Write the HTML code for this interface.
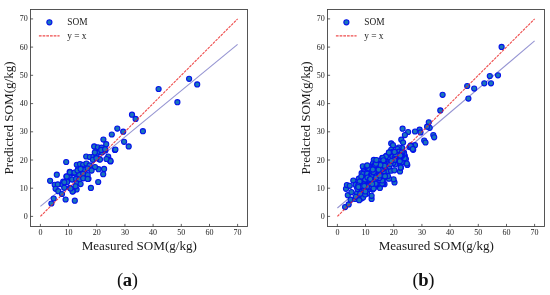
<!DOCTYPE html>
<html><head><meta charset="utf-8"><title>SOM scatter</title>
<style>html,body{margin:0;padding:0;background:#fff}svg{display:block}</style></head>
<body>
<svg width="550" height="295" viewBox="0 0 550 295" font-family="'Liberation Serif', serif">
<rect width="550" height="295" fill="#fff"/>
<line x1="40.4" y1="206.3" x2="237.6" y2="44.3" stroke="#9594d2" stroke-width="1.1"/>
<g fill="#1976ba" stroke="#0512ea" stroke-width="1.1"><circle cx="51.4" cy="203.5" r="2.55"/><circle cx="53.7" cy="198.5" r="2.55"/><circle cx="65.6" cy="199.5" r="2.55"/><circle cx="74.8" cy="200.7" r="2.55"/><circle cx="50.1" cy="180.8" r="2.55"/><circle cx="56.8" cy="174.7" r="2.55"/><circle cx="54.7" cy="184.8" r="2.55"/><circle cx="57.8" cy="184.4" r="2.55"/><circle cx="55.6" cy="188.8" r="2.55"/><circle cx="58.3" cy="191.2" r="2.55"/><circle cx="62.0" cy="194.0" r="2.55"/><circle cx="90.9" cy="187.9" r="2.55"/><circle cx="98.2" cy="182.0" r="2.55"/><circle cx="103.2" cy="174.2" r="2.55"/><circle cx="104.1" cy="168.9" r="2.55"/><circle cx="110.5" cy="161.5" r="2.55"/><circle cx="66.2" cy="162.0" r="2.55"/><circle cx="76.6" cy="189.4" r="2.55"/><circle cx="73.0" cy="191.2" r="2.55"/><circle cx="88.5" cy="178.8" r="2.55"/><circle cx="98.6" cy="169.2" r="2.55"/><circle cx="95.0" cy="167.0" r="2.55"/><circle cx="197.2" cy="84.4" r="2.55"/><circle cx="189.1" cy="78.8" r="2.55"/><circle cx="177.4" cy="102.2" r="2.55"/><circle cx="158.6" cy="89.0" r="2.55"/><circle cx="142.9" cy="131.2" r="2.55"/><circle cx="132.0" cy="114.7" r="2.55"/><circle cx="135.6" cy="118.9" r="2.55"/><circle cx="117.3" cy="128.6" r="2.55"/><circle cx="123.2" cy="131.7" r="2.55"/><circle cx="111.8" cy="134.5" r="2.55"/><circle cx="124.1" cy="141.8" r="2.55"/><circle cx="128.7" cy="146.4" r="2.55"/><circle cx="103.4" cy="139.6" r="2.55"/><circle cx="106.2" cy="144.2" r="2.55"/><circle cx="114.9" cy="150.0" r="2.55"/><circle cx="94.2" cy="146.4" r="2.55"/><circle cx="97.9" cy="147.3" r="2.55"/><circle cx="101.6" cy="147.7" r="2.55"/><circle cx="95.7" cy="151.5" r="2.55"/><circle cx="99.4" cy="151.9" r="2.55"/><circle cx="102.1" cy="152.2" r="2.55"/><circle cx="105.4" cy="150.4" r="2.55"/><circle cx="86.2" cy="156.5" r="2.55"/><circle cx="89.9" cy="157.0" r="2.55"/><circle cx="93.5" cy="156.5" r="2.55"/><circle cx="96.6" cy="156.1" r="2.55"/><circle cx="108.2" cy="156.5" r="2.55"/><circle cx="109.5" cy="160.1" r="2.55"/><circle cx="99.4" cy="159.2" r="2.55"/><circle cx="94.8" cy="152.5" r="2.55"/><circle cx="101.2" cy="149.9" r="2.55"/><circle cx="105.1" cy="149.3" r="2.55"/><circle cx="115.4" cy="149.5" r="2.55"/><circle cx="110.5" cy="160.9" r="2.55"/><circle cx="106.4" cy="159.0" r="2.55"/><circle cx="100.0" cy="159.6" r="2.55"/><circle cx="76.8" cy="164.8" r="2.55"/><circle cx="80.0" cy="164.1" r="2.55"/><circle cx="83.2" cy="164.8" r="2.55"/><circle cx="86.4" cy="163.5" r="2.55"/><circle cx="89.6" cy="165.4" r="2.55"/><circle cx="78.0" cy="169.3" r="2.55"/><circle cx="81.3" cy="168.6" r="2.55"/><circle cx="84.5" cy="169.9" r="2.55"/><circle cx="87.7" cy="168.6" r="2.55"/><circle cx="91.6" cy="170.6" r="2.55"/><circle cx="69.7" cy="171.8" r="2.55"/><circle cx="72.9" cy="173.1" r="2.55"/><circle cx="76.1" cy="173.8" r="2.55"/><circle cx="79.3" cy="174.4" r="2.55"/><circle cx="83.2" cy="173.8" r="2.55"/><circle cx="87.7" cy="175.1" r="2.55"/><circle cx="66.4" cy="176.4" r="2.55"/><circle cx="69.7" cy="177.6" r="2.55"/><circle cx="72.2" cy="179.6" r="2.55"/><circle cx="76.1" cy="178.9" r="2.55"/><circle cx="79.3" cy="179.6" r="2.55"/><circle cx="83.2" cy="178.3" r="2.55"/><circle cx="87.7" cy="178.9" r="2.55"/><circle cx="63.2" cy="181.5" r="2.55"/><circle cx="67.1" cy="182.1" r="2.55"/><circle cx="62.6" cy="184.7" r="2.55"/><circle cx="76.8" cy="183.4" r="2.55"/><circle cx="80.6" cy="184.1" r="2.55"/><circle cx="64.3" cy="187.8" r="2.55"/><circle cx="69.9" cy="187.8" r="2.55"/><circle cx="75.5" cy="186.3" r="2.55"/><circle cx="64.3" cy="182.2" r="2.55"/><circle cx="66.8" cy="176.6" r="2.55"/><circle cx="69.9" cy="172.3" r="2.55"/><circle cx="74.5" cy="172.6" r="2.55"/><circle cx="77.5" cy="170.5" r="2.55"/><circle cx="80.6" cy="169.0" r="2.55"/><circle cx="92.9" cy="159.8" r="2.55"/><circle cx="96.4" cy="158.2" r="2.55"/><circle cx="72.5" cy="191.6" r="2.55"/><circle cx="70.5" cy="188.5" r="2.55"/></g>
<line x1="40.4" y1="216.4" x2="237.6" y2="18.9" stroke="#ea2424" stroke-opacity="0.82" stroke-width="1.1" stroke-dasharray="2.7 1.0"/>
<rect x="30.5" y="9.5" width="217.0" height="217.0" fill="none" stroke="#444" stroke-width="0.9"/>
<path d="M40.4 226.5v-2.6M30.5 216.4h2.6M68.5 226.5v-2.6M30.5 188.2h2.6M96.7 226.5v-2.6M30.5 160.0h2.6M124.9 226.5v-2.6M30.5 131.8h2.6M153.1 226.5v-2.6M30.5 103.6h2.6M181.3 226.5v-2.6M30.5 75.3h2.6M209.5 226.5v-2.6M30.5 47.1h2.6M237.6 226.5v-2.6M30.5 18.9h2.6" stroke="#3a3a3a" stroke-width="0.8" fill="none"/>
<g font-size="8" fill="#222">
<text x="40.4" y="234.7" text-anchor="middle">0</text>
<text x="27.7" y="218.9" text-anchor="end">0</text>
<text x="68.5" y="234.7" text-anchor="middle">10</text>
<text x="27.7" y="190.7" text-anchor="end">10</text>
<text x="96.7" y="234.7" text-anchor="middle">20</text>
<text x="27.7" y="162.5" text-anchor="end">20</text>
<text x="124.9" y="234.7" text-anchor="middle">30</text>
<text x="27.7" y="134.3" text-anchor="end">30</text>
<text x="153.1" y="234.7" text-anchor="middle">40</text>
<text x="27.7" y="106.1" text-anchor="end">40</text>
<text x="181.3" y="234.7" text-anchor="middle">50</text>
<text x="27.7" y="77.8" text-anchor="end">50</text>
<text x="209.5" y="234.7" text-anchor="middle">60</text>
<text x="27.7" y="49.6" text-anchor="end">60</text>
<text x="237.6" y="234.7" text-anchor="middle">70</text>
<text x="27.7" y="21.4" text-anchor="end">70</text>
</g>
<text x="139.3" y="249.8" text-anchor="middle" font-size="13.1" fill="#1a1a1a">Measured SOM(g/kg)</text>
<text transform="translate(13.2 117.9) rotate(-90)" text-anchor="middle" font-size="13.1" fill="#1a1a1a">Predicted SOM(g/kg)</text>
<circle cx="49.4" cy="22.3" r="2.55" fill="#1976ba" stroke="#0512ea" stroke-width="1.1"/>
<line x1="38.9" y1="35.9" x2="59.6" y2="35.9" stroke="#ea2424" stroke-opacity="0.82" stroke-width="1.1" stroke-dasharray="2.7 1.0"/>
<text x="67.2" y="25.3" font-size="9.4" fill="#1a1a1a">SOM</text>
<text x="67.2" y="39.0" font-size="9.4" fill="#1a1a1a">y = x</text><line x1="337.4" y1="208.0" x2="534.6" y2="40.9" stroke="#9594d2" stroke-width="1.1"/>
<g fill="#1976ba" stroke="#0512ea" stroke-width="1.1"><circle cx="345.1" cy="207.1" r="2.55"/><circle cx="348.7" cy="204.4" r="2.55"/><circle cx="350.6" cy="199.8" r="2.55"/><circle cx="355.1" cy="198.9" r="2.55"/><circle cx="347.8" cy="195.2" r="2.55"/><circle cx="346.0" cy="188.8" r="2.55"/><circle cx="346.9" cy="185.1" r="2.55"/><circle cx="353.3" cy="180.6" r="2.55"/><circle cx="358.8" cy="178.7" r="2.55"/><circle cx="361.6" cy="173.2" r="2.55"/><circle cx="363.4" cy="167.7" r="2.55"/><circle cx="371.6" cy="198.9" r="2.55"/><circle cx="371.6" cy="195.8" r="2.55"/><circle cx="379.9" cy="187.9" r="2.55"/><circle cx="384.5" cy="184.2" r="2.55"/><circle cx="394.5" cy="182.4" r="2.55"/><circle cx="393.6" cy="179.3" r="2.55"/><circle cx="389.0" cy="178.7" r="2.55"/><circle cx="400.0" cy="171.4" r="2.55"/><circle cx="400.9" cy="167.7" r="2.55"/><circle cx="407.3" cy="165.0" r="2.55"/><circle cx="428.8" cy="122.3" r="2.55"/><circle cx="429.7" cy="127.8" r="2.55"/><circle cx="433.3" cy="135.1" r="2.55"/><circle cx="434.2" cy="137.3" r="2.55"/><circle cx="424.2" cy="140.6" r="2.55"/><circle cx="425.5" cy="142.5" r="2.55"/><circle cx="419.6" cy="129.7" r="2.55"/><circle cx="420.5" cy="132.4" r="2.55"/><circle cx="415.0" cy="131.5" r="2.55"/><circle cx="402.6" cy="128.7" r="2.55"/><circle cx="408.1" cy="132.0" r="2.55"/><circle cx="404.9" cy="135.1" r="2.55"/><circle cx="401.3" cy="139.7" r="2.55"/><circle cx="403.1" cy="142.5" r="2.55"/><circle cx="391.2" cy="143.4" r="2.55"/><circle cx="393.0" cy="145.2" r="2.55"/><circle cx="415.0" cy="145.2" r="2.55"/><circle cx="412.3" cy="148.0" r="2.55"/><circle cx="409.5" cy="147.1" r="2.55"/><circle cx="413.2" cy="149.8" r="2.55"/><circle cx="398.5" cy="148.9" r="2.55"/><circle cx="402.2" cy="148.0" r="2.55"/><circle cx="391.2" cy="149.8" r="2.55"/><circle cx="394.0" cy="151.6" r="2.55"/><circle cx="389.4" cy="154.4" r="2.55"/><circle cx="383.0" cy="158.0" r="2.55"/><circle cx="373.8" cy="159.9" r="2.55"/><circle cx="372.9" cy="163.5" r="2.55"/><circle cx="362.8" cy="166.3" r="2.55"/><circle cx="366.5" cy="167.2" r="2.55"/><circle cx="404.0" cy="152.5" r="2.55"/><circle cx="404.9" cy="156.2" r="2.55"/><circle cx="405.9" cy="159.0" r="2.55"/><circle cx="406.8" cy="163.5" r="2.55"/><circle cx="402.2" cy="162.6" r="2.55"/><circle cx="498.0" cy="75.3" r="2.55"/><circle cx="489.8" cy="76.0" r="2.55"/><circle cx="491.0" cy="83.3" r="2.55"/><circle cx="484.3" cy="83.3" r="2.55"/><circle cx="474.2" cy="88.6" r="2.55"/><circle cx="467.2" cy="86.0" r="2.55"/><circle cx="468.4" cy="98.6" r="2.55"/><circle cx="442.6" cy="94.8" r="2.55"/><circle cx="440.3" cy="110.4" r="2.55"/><circle cx="427.1" cy="126.7" r="2.55"/><circle cx="501.6" cy="46.9" r="2.55"/><circle cx="410.9" cy="145.4" r="2.55"/><circle cx="398.7" cy="147.5" r="2.55"/><circle cx="397.5" cy="149.1" r="2.55"/><circle cx="392.4" cy="152.2" r="2.55"/><circle cx="388.4" cy="154.7" r="2.55"/><circle cx="382.3" cy="157.8" r="2.55"/><circle cx="367.0" cy="166.4" r="2.55"/><circle cx="410.7" cy="146.1" r="2.55"/><circle cx="412.8" cy="149.1" r="2.55"/><circle cx="404.1" cy="154.2" r="2.55"/><circle cx="404.6" cy="158.3" r="2.55"/><circle cx="401.6" cy="162.3" r="2.55"/><circle cx="400.6" cy="167.4" r="2.55"/><circle cx="396.5" cy="154.2" r="2.55"/><circle cx="400.1" cy="157.2" r="2.55"/><circle cx="376.3" cy="175.3" r="2.55"/><circle cx="386.6" cy="167.0" r="2.55"/><circle cx="361.1" cy="180.5" r="2.55"/><circle cx="362.2" cy="184.5" r="2.55"/><circle cx="381.0" cy="166.7" r="2.55"/><circle cx="391.9" cy="157.3" r="2.55"/><circle cx="388.9" cy="161.2" r="2.55"/><circle cx="367.4" cy="181.9" r="2.55"/><circle cx="375.6" cy="171.0" r="2.55"/><circle cx="392.7" cy="152.4" r="2.55"/><circle cx="387.2" cy="160.6" r="2.55"/><circle cx="395.6" cy="155.7" r="2.55"/><circle cx="375.9" cy="179.3" r="2.55"/><circle cx="372.6" cy="189.6" r="2.55"/><circle cx="399.6" cy="155.9" r="2.55"/><circle cx="380.7" cy="165.9" r="2.55"/><circle cx="359.1" cy="182.9" r="2.55"/><circle cx="396.7" cy="160.1" r="2.55"/><circle cx="389.0" cy="154.9" r="2.55"/><circle cx="383.4" cy="180.4" r="2.55"/><circle cx="361.4" cy="198.6" r="2.55"/><circle cx="379.2" cy="164.6" r="2.55"/><circle cx="368.7" cy="179.4" r="2.55"/><circle cx="361.2" cy="183.7" r="2.55"/><circle cx="379.4" cy="167.8" r="2.55"/><circle cx="363.1" cy="197.5" r="2.55"/><circle cx="374.2" cy="183.8" r="2.55"/><circle cx="369.2" cy="170.0" r="2.55"/><circle cx="372.1" cy="181.6" r="2.55"/><circle cx="378.4" cy="174.6" r="2.55"/><circle cx="385.5" cy="166.9" r="2.55"/><circle cx="379.5" cy="173.0" r="2.55"/><circle cx="364.8" cy="181.7" r="2.55"/><circle cx="370.9" cy="177.7" r="2.55"/><circle cx="377.1" cy="169.7" r="2.55"/><circle cx="364.6" cy="183.9" r="2.55"/><circle cx="357.1" cy="193.0" r="2.55"/><circle cx="373.0" cy="179.1" r="2.55"/><circle cx="378.2" cy="160.8" r="2.55"/><circle cx="383.0" cy="184.0" r="2.55"/><circle cx="363.5" cy="187.6" r="2.55"/><circle cx="356.7" cy="186.7" r="2.55"/><circle cx="386.2" cy="166.8" r="2.55"/><circle cx="386.2" cy="165.8" r="2.55"/><circle cx="373.4" cy="171.1" r="2.55"/><circle cx="386.4" cy="155.9" r="2.55"/><circle cx="376.6" cy="166.8" r="2.55"/><circle cx="371.8" cy="178.7" r="2.55"/><circle cx="357.5" cy="188.9" r="2.55"/><circle cx="373.3" cy="169.9" r="2.55"/><circle cx="371.4" cy="179.9" r="2.55"/><circle cx="370.2" cy="188.6" r="2.55"/><circle cx="369.3" cy="185.5" r="2.55"/><circle cx="379.9" cy="161.1" r="2.55"/><circle cx="399.1" cy="151.7" r="2.55"/><circle cx="367.5" cy="178.9" r="2.55"/><circle cx="377.6" cy="172.1" r="2.55"/><circle cx="386.1" cy="164.7" r="2.55"/><circle cx="381.5" cy="167.5" r="2.55"/><circle cx="373.0" cy="180.6" r="2.55"/><circle cx="372.4" cy="177.6" r="2.55"/><circle cx="366.6" cy="175.8" r="2.55"/><circle cx="377.7" cy="184.3" r="2.55"/><circle cx="380.8" cy="176.7" r="2.55"/><circle cx="384.8" cy="167.8" r="2.55"/><circle cx="381.8" cy="169.4" r="2.55"/><circle cx="351.4" cy="192.0" r="2.55"/><circle cx="376.4" cy="184.0" r="2.55"/><circle cx="365.0" cy="187.4" r="2.55"/><circle cx="372.8" cy="175.9" r="2.55"/><circle cx="388.0" cy="171.1" r="2.55"/><circle cx="391.0" cy="170.7" r="2.55"/><circle cx="382.3" cy="169.4" r="2.55"/><circle cx="383.6" cy="171.6" r="2.55"/><circle cx="387.9" cy="176.0" r="2.55"/><circle cx="366.0" cy="178.6" r="2.55"/><circle cx="362.5" cy="183.8" r="2.55"/><circle cx="371.4" cy="183.9" r="2.55"/><circle cx="368.3" cy="176.5" r="2.55"/><circle cx="385.5" cy="164.1" r="2.55"/><circle cx="387.6" cy="159.1" r="2.55"/><circle cx="355.8" cy="196.8" r="2.55"/><circle cx="361.7" cy="191.7" r="2.55"/><circle cx="359.1" cy="185.7" r="2.55"/><circle cx="373.9" cy="188.1" r="2.55"/><circle cx="367.7" cy="190.0" r="2.55"/><circle cx="363.8" cy="188.8" r="2.55"/><circle cx="392.4" cy="153.6" r="2.55"/><circle cx="363.3" cy="173.8" r="2.55"/><circle cx="382.4" cy="163.6" r="2.55"/><circle cx="387.5" cy="164.6" r="2.55"/><circle cx="386.1" cy="162.2" r="2.55"/><circle cx="365.2" cy="179.5" r="2.55"/><circle cx="375.8" cy="173.0" r="2.55"/><circle cx="402.4" cy="155.3" r="2.55"/><circle cx="377.4" cy="172.9" r="2.55"/><circle cx="372.9" cy="177.6" r="2.55"/><circle cx="369.9" cy="187.2" r="2.55"/><circle cx="379.5" cy="170.7" r="2.55"/><circle cx="396.1" cy="163.3" r="2.55"/><circle cx="380.1" cy="167.5" r="2.55"/><circle cx="362.3" cy="184.9" r="2.55"/><circle cx="373.1" cy="166.3" r="2.55"/><circle cx="374.4" cy="169.5" r="2.55"/><circle cx="374.9" cy="171.4" r="2.55"/><circle cx="373.5" cy="170.6" r="2.55"/><circle cx="372.6" cy="179.2" r="2.55"/><circle cx="383.4" cy="162.3" r="2.55"/><circle cx="370.5" cy="174.1" r="2.55"/><circle cx="363.8" cy="184.5" r="2.55"/><circle cx="375.4" cy="181.2" r="2.55"/><circle cx="401.5" cy="156.1" r="2.55"/><circle cx="398.4" cy="159.1" r="2.55"/><circle cx="359.6" cy="181.5" r="2.55"/><circle cx="399.9" cy="159.0" r="2.55"/><circle cx="367.1" cy="193.6" r="2.55"/><circle cx="389.3" cy="166.6" r="2.55"/><circle cx="371.9" cy="186.4" r="2.55"/><circle cx="366.7" cy="172.8" r="2.55"/><circle cx="387.8" cy="156.7" r="2.55"/><circle cx="391.9" cy="161.0" r="2.55"/><circle cx="384.9" cy="167.8" r="2.55"/><circle cx="400.2" cy="155.2" r="2.55"/><circle cx="362.6" cy="186.3" r="2.55"/><circle cx="400.5" cy="157.2" r="2.55"/><circle cx="384.4" cy="176.2" r="2.55"/><circle cx="392.9" cy="156.7" r="2.55"/><circle cx="388.3" cy="159.0" r="2.55"/><circle cx="395.0" cy="156.0" r="2.55"/><circle cx="395.2" cy="164.5" r="2.55"/><circle cx="383.0" cy="168.8" r="2.55"/><circle cx="355.7" cy="184.7" r="2.55"/><circle cx="382.2" cy="183.6" r="2.55"/><circle cx="370.9" cy="176.5" r="2.55"/><circle cx="367.2" cy="173.8" r="2.55"/><circle cx="372.0" cy="183.9" r="2.55"/><circle cx="384.0" cy="160.0" r="2.55"/><circle cx="382.3" cy="168.6" r="2.55"/><circle cx="367.1" cy="186.6" r="2.55"/><circle cx="349.8" cy="185.8" r="2.55"/><circle cx="378.6" cy="163.7" r="2.55"/><circle cx="378.0" cy="172.5" r="2.55"/><circle cx="374.1" cy="166.3" r="2.55"/><circle cx="374.6" cy="168.4" r="2.55"/><circle cx="372.8" cy="180.9" r="2.55"/><circle cx="378.6" cy="172.2" r="2.55"/><circle cx="392.2" cy="152.9" r="2.55"/><circle cx="399.8" cy="156.5" r="2.55"/><circle cx="401.7" cy="152.5" r="2.55"/><circle cx="383.3" cy="165.9" r="2.55"/><circle cx="375.1" cy="170.1" r="2.55"/><circle cx="393.8" cy="159.5" r="2.55"/><circle cx="387.8" cy="162.2" r="2.55"/><circle cx="370.8" cy="175.4" r="2.55"/><circle cx="382.2" cy="180.4" r="2.55"/><circle cx="370.0" cy="180.8" r="2.55"/><circle cx="372.4" cy="175.0" r="2.55"/><circle cx="388.4" cy="163.4" r="2.55"/><circle cx="380.5" cy="176.7" r="2.55"/><circle cx="378.8" cy="167.1" r="2.55"/><circle cx="384.9" cy="164.6" r="2.55"/><circle cx="373.9" cy="181.4" r="2.55"/><circle cx="358.2" cy="185.5" r="2.55"/><circle cx="379.5" cy="165.6" r="2.55"/><circle cx="365.1" cy="194.4" r="2.55"/><circle cx="385.9" cy="156.4" r="2.55"/><circle cx="393.2" cy="162.9" r="2.55"/><circle cx="382.6" cy="158.0" r="2.55"/><circle cx="372.0" cy="174.9" r="2.55"/><circle cx="393.1" cy="156.1" r="2.55"/><circle cx="392.5" cy="156.5" r="2.55"/><circle cx="365.4" cy="191.4" r="2.55"/><circle cx="379.3" cy="172.6" r="2.55"/><circle cx="390.3" cy="164.0" r="2.55"/><circle cx="372.1" cy="170.9" r="2.55"/><circle cx="375.6" cy="183.8" r="2.55"/><circle cx="380.8" cy="169.9" r="2.55"/><circle cx="394.6" cy="157.9" r="2.55"/><circle cx="377.0" cy="171.7" r="2.55"/><circle cx="395.7" cy="154.2" r="2.55"/><circle cx="385.0" cy="176.2" r="2.55"/><circle cx="375.0" cy="164.7" r="2.55"/><circle cx="384.5" cy="165.8" r="2.55"/><circle cx="394.5" cy="151.9" r="2.55"/><circle cx="367.5" cy="177.6" r="2.55"/><circle cx="367.2" cy="165.4" r="2.55"/><circle cx="361.3" cy="176.5" r="2.55"/><circle cx="399.8" cy="161.3" r="2.55"/><circle cx="369.7" cy="179.7" r="2.55"/><circle cx="394.4" cy="159.9" r="2.55"/><circle cx="378.6" cy="171.6" r="2.55"/><circle cx="374.3" cy="175.2" r="2.55"/><circle cx="377.8" cy="169.7" r="2.55"/><circle cx="360.2" cy="193.7" r="2.55"/><circle cx="378.6" cy="169.8" r="2.55"/><circle cx="380.4" cy="164.9" r="2.55"/><circle cx="401.2" cy="155.1" r="2.55"/><circle cx="373.5" cy="172.1" r="2.55"/><circle cx="376.0" cy="163.7" r="2.55"/><circle cx="372.1" cy="177.3" r="2.55"/><circle cx="379.2" cy="177.9" r="2.55"/><circle cx="376.1" cy="177.5" r="2.55"/><circle cx="370.3" cy="179.0" r="2.55"/><circle cx="358.4" cy="187.1" r="2.55"/><circle cx="376.4" cy="160.1" r="2.55"/><circle cx="373.6" cy="188.5" r="2.55"/><circle cx="364.3" cy="185.9" r="2.55"/><circle cx="372.1" cy="184.0" r="2.55"/><circle cx="391.5" cy="161.0" r="2.55"/><circle cx="394.4" cy="170.3" r="2.55"/><circle cx="400.3" cy="155.6" r="2.55"/><circle cx="372.8" cy="169.6" r="2.55"/><circle cx="388.9" cy="152.4" r="2.55"/><circle cx="379.7" cy="175.5" r="2.55"/><circle cx="383.4" cy="160.3" r="2.55"/><circle cx="359.2" cy="200.2" r="2.55"/></g>
<line x1="337.4" y1="216.4" x2="534.6" y2="18.9" stroke="#ea2424" stroke-opacity="0.82" stroke-width="1.1" stroke-dasharray="2.7 1.0"/>
<rect x="327.5" y="9.5" width="217.0" height="217.0" fill="none" stroke="#444" stroke-width="0.9"/>
<path d="M337.4 226.5v-2.6M327.5 216.4h2.6M365.5 226.5v-2.6M327.5 188.2h2.6M393.7 226.5v-2.6M327.5 160.0h2.6M421.9 226.5v-2.6M327.5 131.8h2.6M450.1 226.5v-2.6M327.5 103.6h2.6M478.3 226.5v-2.6M327.5 75.3h2.6M506.5 226.5v-2.6M327.5 47.1h2.6M534.6 226.5v-2.6M327.5 18.9h2.6" stroke="#3a3a3a" stroke-width="0.8" fill="none"/>
<g font-size="8" fill="#222">
<text x="337.4" y="234.7" text-anchor="middle">0</text>
<text x="324.7" y="218.9" text-anchor="end">0</text>
<text x="365.5" y="234.7" text-anchor="middle">10</text>
<text x="324.7" y="190.7" text-anchor="end">10</text>
<text x="393.7" y="234.7" text-anchor="middle">20</text>
<text x="324.7" y="162.5" text-anchor="end">20</text>
<text x="421.9" y="234.7" text-anchor="middle">30</text>
<text x="324.7" y="134.3" text-anchor="end">30</text>
<text x="450.1" y="234.7" text-anchor="middle">40</text>
<text x="324.7" y="106.1" text-anchor="end">40</text>
<text x="478.3" y="234.7" text-anchor="middle">50</text>
<text x="324.7" y="77.8" text-anchor="end">50</text>
<text x="506.5" y="234.7" text-anchor="middle">60</text>
<text x="324.7" y="49.6" text-anchor="end">60</text>
<text x="534.6" y="234.7" text-anchor="middle">70</text>
<text x="324.7" y="21.4" text-anchor="end">70</text>
</g>
<text x="436.3" y="249.8" text-anchor="middle" font-size="13.1" fill="#1a1a1a">Measured SOM(g/kg)</text>
<text transform="translate(310.2 117.9) rotate(-90)" text-anchor="middle" font-size="13.1" fill="#1a1a1a">Predicted SOM(g/kg)</text>
<circle cx="346.4" cy="22.3" r="2.55" fill="#1976ba" stroke="#0512ea" stroke-width="1.1"/>
<line x1="335.9" y1="35.9" x2="356.6" y2="35.9" stroke="#ea2424" stroke-opacity="0.82" stroke-width="1.1" stroke-dasharray="2.7 1.0"/>
<text x="364.2" y="25.3" font-size="9.4" fill="#1a1a1a">SOM</text>
<text x="364.2" y="39.0" font-size="9.4" fill="#1a1a1a">y = x</text><text x="127.3" y="286.2" text-anchor="middle" font-size="18.6" letter-spacing="-0.4" fill="#111">(<tspan font-weight="bold">a</tspan>)</text>
<text x="423.2" y="286.2" text-anchor="middle" font-size="18.6" letter-spacing="-0.4" fill="#111">(<tspan font-weight="bold">b</tspan>)</text>
</svg>
</body></html>
